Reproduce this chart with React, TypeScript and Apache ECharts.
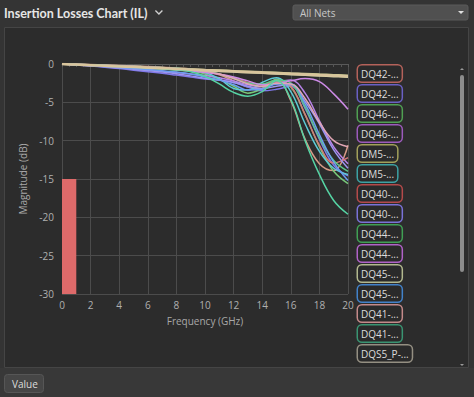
import React, { useEffect, useRef } from "react";
import * as echarts from "echarts";

const freqs: number[] = [0, 1, 2, 3, 4, 5, 6, 7, 8, 9, 10, 11, 12, 13, 14, 15, 16, 17, 18, 19, 20];

const netNames: string[] = [
  "DQ42-0", "DQ42-1", "DQ46-0", "DQ46-1", "DM5-0", "DM5-1", "DQ40-0", "DQ40-1",
  "DQ44-0", "DQ44-1", "DQ45-0", "DQ45-1", "DQ41-0", "DQ41-1", "DQS5_P-0",
];

const borderColors: string[] = [
  "#b4625a", "#6a60c4", "#50a052", "#9c5abc", "#a2a05a", "#3ca2a4", "#b44a4a", "#7a72d8",
  "#40a054", "#b062c8", "#b2b88e", "#4282ca", "#c48a8a", "#3a9472", "#948f82",
];

const lineColors: string[] = [
  "#d69a86", "#7f78e8", "#78c87a", "#b883e8", "#c8c890", "#5ccbd6", "#d47878", "#9d95f0",
  "#5cc88a", "#cc8ae6", "#d8d4a8", "#6a9ef0", "#e0a6b4", "#56d4a4", "#d8c49c",
];

const lineWidths: number[] = [1.5, 1.5, 1.5, 1.5, 2, 1.5, 1.5, 1.5, 1.5, 1.5, 2, 1.5, 1.5, 1.5, 2.5];

const dq42a: number[] = [0, -0.03, -0.07, -0.12, -0.18, -0.25, -0.33, -0.42, -0.52, -0.65, -0.9, -1.4, -2.2, -3.0, -3.2, -2.0, -4.8, -9.8, -13.0, -13.9, -10.6];
const dq42b: number[] = [0, -0.12, -0.26, -0.42, -0.6, -0.8, -1.0, -1.2, -1.45, -1.7, -1.95, -2.1, -2.4, -3.0, -3.5, -3.3, -2.9, -5.8, -9.8, -13.2, -14.6];
const dq46a: number[] = [0, -0.06, -0.13, -0.21, -0.3, -0.4, -0.5, -0.62, -0.76, -0.95, -1.3, -2.0, -2.9, -3.8, -3.2, -2.1, -3.0, -6.6, -10.8, -14.0, -15.6];
const dq46b: number[] = [0, -0.08, -0.18, -0.3, -0.44, -0.6, -0.76, -0.94, -1.12, -1.3, -1.5, -1.8, -2.2, -2.7, -2.9, -2.4, -2.1, -3.8, -7.4, -10.8, -13.0];
const dm5a: number[] = [0, -0.07, -0.15, -0.22, -0.3, -0.37, -0.45, -0.52, -0.6, -0.67, -0.75, -0.82, -0.9, -0.97, -1.05, -1.12, -1.2, -1.27, -1.35, -1.42, -1.5];
const dm5b: number[] = [0, -0.05, -0.1, -0.18, -0.26, -0.34, -0.42, -0.5, -0.6, -0.75, -1.1, -1.9, -3.2, -3.4, -2.4, -1.8, -3.6, -7.8, -11.4, -13.6, -14.4];
const dq40a: number[] = [0, -0.04, -0.09, -0.15, -0.22, -0.3, -0.39, -0.49, -0.6, -0.74, -0.95, -1.3, -1.8, -2.4, -2.7, -2.3, -2.9, -6.6, -10.6, -12.9, -12.2];
const dq40b: number[] = [0, -0.1, -0.22, -0.36, -0.52, -0.68, -0.86, -1.05, -1.28, -1.55, -1.85, -2.1, -2.4, -2.9, -3.2, -2.9, -2.7, -4.9, -7.8, -11.2, -13.6];
const dq44a: number[] = [0, -0.05, -0.1, -0.16, -0.23, -0.3, -0.38, -0.47, -0.57, -0.7, -0.9, -1.3, -1.9, -2.5, -2.6, -2.1, -2.5, -5.6, -9.6, -12.6, -14.0];
const dq44b: number[] = [0, -0.06, -0.13, -0.21, -0.3, -0.4, -0.5, -0.62, -0.75, -0.9, -1.1, -1.35, -1.7, -2.2, -2.7, -2.6, -2.2, -1.9, -2.3, -3.9, -5.9];
const dq45a: number[] = [0, -0.09, -0.17, -0.26, -0.34, -0.43, -0.51, -0.6, -0.68, -0.77, -0.85, -0.94, -1.02, -1.11, -1.19, -1.28, -1.36, -1.45, -1.53, -1.62, -1.7];
const dq45b: number[] = [0, -0.1, -0.2, -0.32, -0.45, -0.58, -0.72, -0.88, -1.05, -1.3, -1.7, -2.1, -2.7, -3.4, -3.3, -2.6, -2.6, -5.2, -9.2, -12.8, -15.2];
const dq41a: number[] = [0, -0.04, -0.09, -0.15, -0.22, -0.3, -0.38, -0.47, -0.58, -0.72, -0.95, -1.3, -1.9, -2.6, -2.9, -2.5, -2.6, -4.5, -7.6, -10.0, -10.8];
const dq41b: number[] = [0, -0.05, -0.12, -0.2, -0.3, -0.4, -0.5, -0.62, -0.78, -1.0, -1.6, -2.6, -3.7, -4.2, -3.6, -2.2, -4.6, -10.0, -14.4, -17.8, -19.6];
const dqs5p: number[] = [0, -0.08, -0.16, -0.24, -0.32, -0.4, -0.48, -0.56, -0.64, -0.72, -0.8, -0.88, -0.96, -1.04, -1.12, -1.2, -1.28, -1.36, -1.44, -1.52, -1.6];

const seriesValues: number[][] = [
  dq42a, dq42b, dq46a, dq46b, dm5a, dm5b, dq40a, dq40b,
  dq44a, dq44b, dq45a, dq45b, dq41a, dq41b, dqs5p,
];

// highlighted band: frequency range and magnitude range
const bandFreq: number[] = [0, 1];
const bandMag: number[] = [-30, -15];

const yTicks = { min: -30, max: 0, interval: 5 };
const xTicks = { min: 0, max: 20, interval: 2 };

const titleText = "Insertion Losses Chart (IL)";

export default function App() {
  const ref = useRef<HTMLDivElement>(null);

  useEffect(() => {
    if (!ref.current) return;
    const chart = echarts.init(ref.current, null, { renderer: "svg" });
    const font = "'Open Sans', 'Noto Sans', sans-serif";
    const titleFontSize = 12.5;
    const titleFontFamily = "Lato, 'Open Sans', sans-serif";

    let titleWidth = 130;
    try {
      const ctx = document.createElement("canvas").getContext("2d");
      if (ctx) {
        ctx.font = `bold ${titleFontSize}px ${titleFontFamily}`;
        titleWidth = ctx.measureText(titleText).width;
      }
    } catch (e) {
      /* keep default */
    }
    const chevX = 4 + titleWidth + 8;

    const series: any[] = netNames.map((name, i) => ({
      name,
      type: "line",
      smooth: 0.4,
      showSymbol: false,
      symbol: "none",
      z: 3,
      lineStyle: { width: lineWidths[i], color: lineColors[i] },
      itemStyle: { color: lineColors[i] },
      data: freqs.map((f, k) => [f, seriesValues[i][k]]),
    }));
    series[0].markArea = {
      silent: true,
      itemStyle: { color: "#de6a6a", opacity: 1 },
      data: [[{ coord: [bandFreq[0], bandMag[1]] }, { coord: [bandFreq[1], bandMag[0]] }]],
    };

    chart.setOption({
      animation: false,
      backgroundColor: "#2c2c2c",
      grid: { left: 62, top: 64, width: 286, height: 230, containLabel: false },
      xAxis: {
        type: "value",
        min: xTicks.min,
        max: xTicks.max,
        interval: xTicks.interval,
        name: "Frequency (GHz)",
        nameLocation: "middle",
        nameGap: 22,
        nameTextStyle: { color: "#a8a8a8", fontSize: 10, fontFamily: font },
        axisLine: { show: true, lineStyle: { color: "#5a5a5a" } },
        axisTick: { show: true, length: 3, lineStyle: { color: "#5a5a5a" } },
        minorTick: { show: true, splitNumber: 4, length: 3, lineStyle: { color: "#555" } },
        axisLabel: { color: "#b0b0b0", fontSize: 10, fontFamily: font, margin: 6 },
        splitLine: { show: true, lineStyle: { color: "#4c4c4c", width: 1 } },
      },
      yAxis: {
        type: "value",
        min: yTicks.min,
        max: yTicks.max,
        interval: yTicks.interval,
        name: "Magnitude (dB)",
        nameLocation: "middle",
        nameGap: 30,
        nameRotate: 90,
        nameTextStyle: { color: "#a8a8a8", fontSize: 10, fontFamily: font },
        axisLine: { show: true, lineStyle: { color: "#4c4c4c" } },
        axisTick: { show: false },
        axisLabel: { color: "#b0b0b0", fontSize: 10, fontFamily: font, margin: 8 },
        splitLine: { show: true, lineStyle: { color: "#4c4c4c", width: 1 } },
      },
      legend: {
        orient: "vertical",
        left: 348,
        top: 59,
        height: 330,
        itemGap: 1,
        itemWidth: 0,
        itemHeight: 0,
        icon: "none",
        selectedMode: false,
        formatter: (name: string) => name.slice(0, name.lastIndexOf("-")) + "-...",
        textStyle: { color: "#dcdcdc", fontSize: 10, fontFamily: font, lineHeight: 12 },
        data: netNames.map((name, i) => ({
          name,
          icon: "none",
          textStyle: {
            color: "#dcdcdc",
            fontSize: 10,
            fontFamily: font,
            lineHeight: 12,
            backgroundColor: "#2a2a2a",
            borderColor: borderColors[i],
            borderWidth: 1.5,
            borderRadius: 4,
            padding: [2, 3, 2, 3],
          },
        })),
      },
      graphic: {
        elements: [
          { type: "rect", z: 50, shape: { x: 0, y: 0, width: 474, height: 27 }, style: { fill: "#343434" } },
          { type: "rect", z: 50, shape: { x: 0, y: 0, width: 4, height: 397 }, style: { fill: "#343434" } },
          { type: "rect", z: 50, shape: { x: 469, y: 0, width: 5, height: 397 }, style: { fill: "#343434" } },
          { type: "rect", z: 50, shape: { x: 0, y: 368, width: 474, height: 29 }, style: { fill: "#383838" } },
          { type: "rect", z: 51, shape: { x: 4.5, y: 27.5, width: 464, height: 340 }, style: { fill: "none", stroke: "#454545", lineWidth: 1 } },
          {
            type: "text", z: 52, x: 4, y: 13,
            style: { text: titleText, fill: "#e6e6e6", fontSize: titleFontSize, fontWeight: "bold", fontFamily: titleFontFamily, verticalAlign: "middle" },
          },
          { type: "polyline", z: 52, shape: { points: [[chevX, 10.5], [chevX + 3.5, 14], [chevX + 7, 10.5]] }, style: { stroke: "#d0d0d0", lineWidth: 1.3, fill: "none" } },
          { type: "rect", z: 52, shape: { x: 293, y: 5, width: 175, height: 15, r: 2 }, style: { fill: "#505050", stroke: "#5a5a5a", lineWidth: 1 } },
          {
            type: "text", z: 53, x: 300, y: 12.5,
            style: { text: "All Nets", fill: "#c8c8c8", fontSize: 10, fontFamily: font, verticalAlign: "middle" },
          },
          { type: "polygon", z: 53, shape: { points: [[458, 11], [464, 11], [461, 14]] }, style: { fill: "#e0e0e0" } },
          { type: "rect", z: 52, shape: { x: 460, y: 75, width: 4, height: 197, r: 2 }, style: { fill: "#8c8c8c" } },
          { type: "polygon", z: 52, shape: { points: [[460, 70], [464, 70], [462, 68]] }, style: { fill: "#9a9a9a" } },
          { type: "polygon", z: 52, shape: { points: [[460, 364], [464, 364], [462, 366]] }, style: { fill: "#9a9a9a" } },
          { type: "rect", z: 52, shape: { x: 4.5, y: 374.5, width: 39, height: 18, r: 3 }, style: { fill: "#464646", stroke: "#565656", lineWidth: 1 } },
          {
            type: "text", z: 53, x: 12, y: 384,
            style: { text: "Value", fill: "#dcdcdc", fontSize: 10, fontFamily: font, verticalAlign: "middle" },
          },
        ],
      },
      series,
    });

    return () => chart.dispose();
  }, []);

  return (
    <div
      ref={ref}
      style={{ position: "fixed", left: 0, top: 0, width: 474, height: 397 }}
    />
  );
}
